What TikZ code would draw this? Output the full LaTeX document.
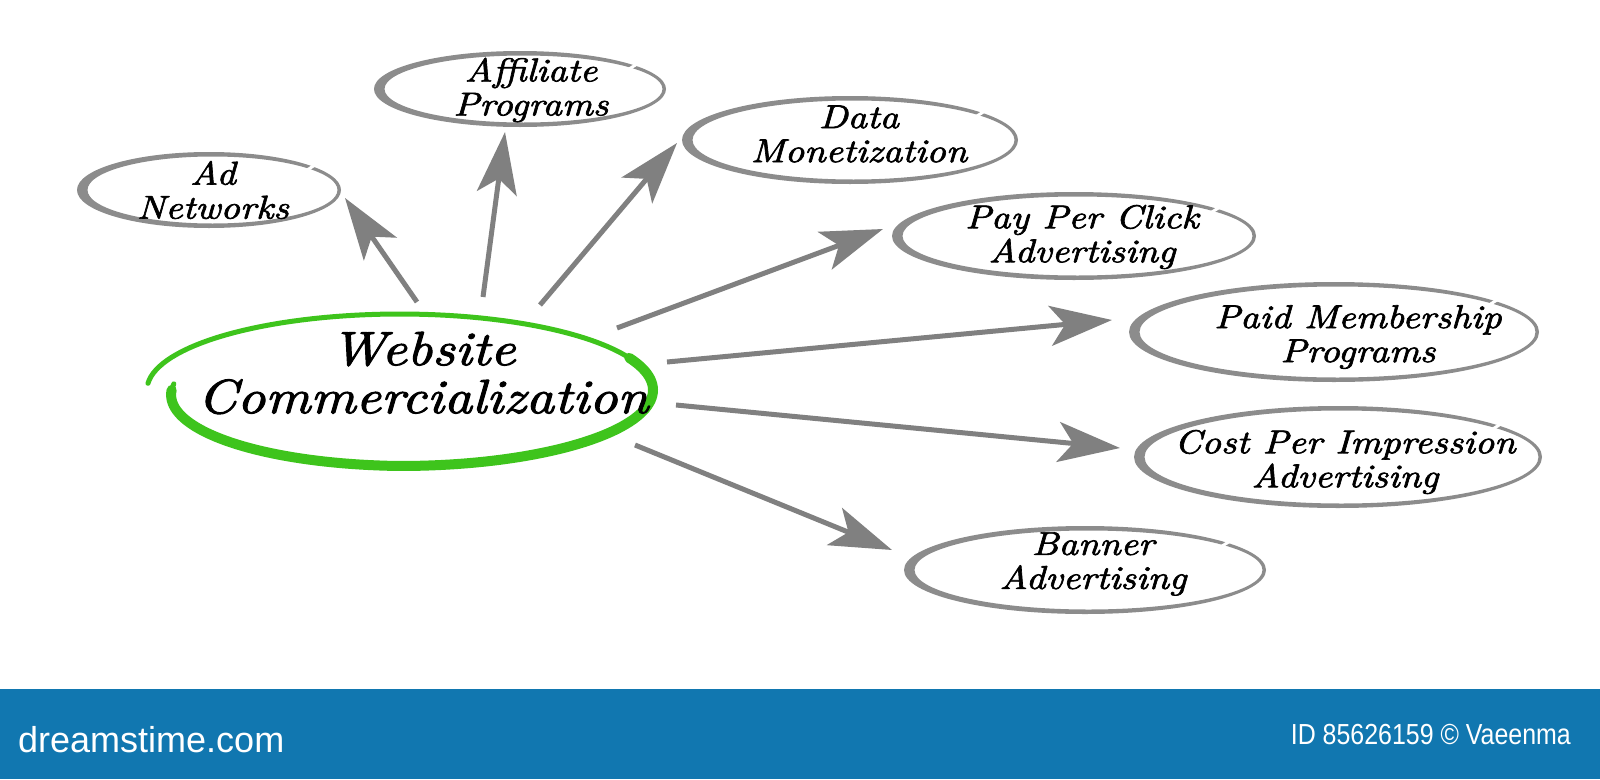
\documentclass[tikz,border=0pt]{standalone}
\usepackage{fontspec}
\newfontfamily\logofont{Liberation Sans}
\newfontfamily\idfont[FakeStretch=0.86]{Liberation Sans}
\newfontfamily\hand[FakeStretch=1.15,FakeBold=2]{lmroman10-italic.otf}
\usetikzlibrary{arrows.meta,shapes.geometric}
\definecolor{brushgray}{RGB}{140,140,140}
\definecolor{arrowgray}{RGB}{128,128,128}
\definecolor{brushgreen}{RGB}{62,196,28}
\definecolor{bannerblue}{RGB}{17,119,176}
\newcommand\brushring[4]{%
  \fill[brushgray,even odd rule] (#1,#2) ellipse [x radius=#3pt+1pt, y radius=#4pt+1pt]
    (#1+3.5,#2) ellipse [x radius=#3pt-6pt, y radius=#4pt-3.5pt];
  \draw[white, line width=3pt]
    ([shift={(38:#3pt-12pt and #4pt-9pt)}]#1,#2) --
    ([shift={(38:#3pt+4pt and #4pt+4pt)}]#1,#2);}
\begin{document}
\begin{tikzpicture}[x=1pt,y=-1pt,
  lbl/.style={inner sep=0pt, align=center, text=black,
    font=\hand\fontsize{33}{34}\selectfont},
  arr/.style={draw=arrowgray, line width=5pt,
    -{Stealth[length=62pt,width=40pt,inset=15pt]}},
  gstroke/.style={draw=brushgreen, line cap=round}]
\useasboundingbox (0,0) rectangle (1600,779);
\fill[white] (0,0) rectangle (1600,779);

% central green brush ellipse
\draw[gstroke, line width=5pt] plot[domain=185:545, samples=140, variable=\t]
  ({400+(253-26*max(0,(\t-450)/95))*cos(\t)}, {390+(76-5*max(0,(\t-450)/95))*sin(\t)});
\draw[gstroke, line width=10pt] plot[domain=335:540, samples=100, variable=\t]
  ({400+(253-26*max(0,(\t-450)/95))*cos(\t)}, {390+(76-5*max(0,(\t-450)/95))*sin(\t)});
\node[inner sep=0pt, align=center, text=black,
  font=\hand\fontsize{48}{48}\selectfont] (c) at (423,373) {Website\\Commercialization};

% gray brush ellipses
\brushring{209}{190}{131}{37}
\brushring{520}{89}{145}{37}
\brushring{850}{140}{167}{43}
\brushring{1074}{236}{181}{43}
\brushring{1334}{332}{204}{49}
\brushring{1338}{457}{203}{50}
\brushring{1085}{570}{180}{43}

\node[lbl] (ad) at (213,190) {Ad\\Networks};
\node[lbl] (aff) at (531,90) {Affiliate\\Programs};
\node[lbl] (data) at (859,134) {Data\\Monetization};
\node[lbl] (ppc) at (1082,237) {Pay Per Click\\Advertising};
\node[lbl] (paid) at (1358,337) {Paid Membership\\Programs};
\node[lbl] (cpi) at (1345,462) {Cost Per Impression\\Advertising};
\node[lbl] (ban) at (1093,564) {Banner\\Advertising};

% arrow end points
\coordinate (s1) at (417,302); \coordinate (e1) at (345,198);
\coordinate (s2) at (483,297); \coordinate (e2) at (505,132);
\coordinate (s3) at (540,305); \coordinate (e3) at (677,143);
\coordinate (s4) at (617,328); \coordinate (e4) at (883,229);
\coordinate (s5) at (667,362); \coordinate (e5) at (1112,320);
\coordinate (s6) at (676,405); \coordinate (e6) at (1120,448);
\coordinate (s7) at (635,445); \coordinate (e7) at (892,550);
\foreach \i in {1,...,7} {\draw[arr] (s\i) -- (e\i);}

% banner
\fill[bannerblue] (0,689) rectangle (1600,779);
\node[anchor=base west, inner sep=0pt, text=white,
  font=\logofont\fontsize{36}{36}\selectfont] (logo) at (18,752) {dreamstime.com};
\node[anchor=base east, inner sep=0pt, text=white,
  font=\idfont\fontsize{29}{29}\selectfont] (idtxt) at (1571,744) {ID 85626159 © Vaeenma};
\end{tikzpicture}
\end{document}
